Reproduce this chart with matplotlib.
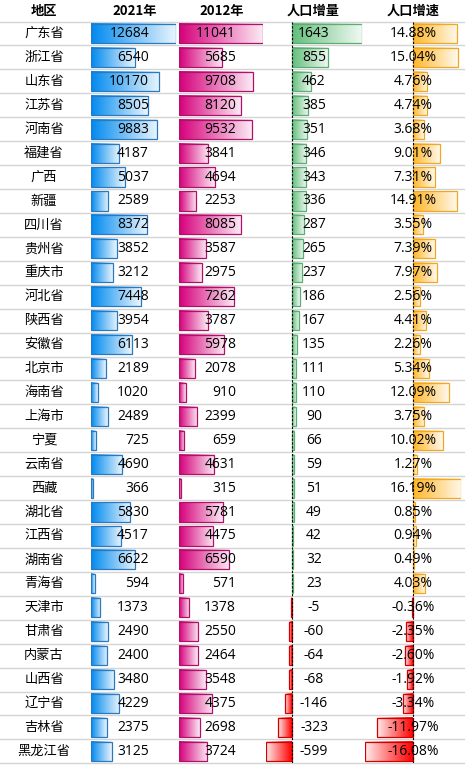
import matplotlib
matplotlib.use('Agg')
import matplotlib.pyplot as plt
import numpy as np
from matplotlib.colors import LinearSegmentedColormap

plt.rcParams['font.family'] = ['Noto Sans CJK SC', 'DejaVu Sans']

# 数据
regions = ['广东省', '浙江省', '山东省', '江苏省', '河南省', '福建省', '广西', '新疆',
           '四川省', '贵州省', '重庆市', '河北省', '陕西省', '安徽省', '北京市', '海南省',
           '上海市', '宁夏', '云南省', '西藏', '湖北省', '江西省', '湖南省', '青海省',
           '天津市', '甘肃省', '内蒙古', '山西省', '辽宁省', '吉林省', '黑龙江省']
pop_2021 = [12684, 6540, 10170, 8505, 9883, 4187, 5037, 2589, 8372, 3852, 3212, 7448,
            3954, 6113, 2189, 1020, 2489, 725, 4690, 366, 5830, 4517, 6622, 594,
            1373, 2490, 2400, 3480, 4229, 2375, 3125]
pop_2012 = [11041, 5685, 9708, 8120, 9532, 3841, 4694, 2253, 8085, 3587, 2975, 7262,
            3787, 5978, 2078, 910, 2399, 659, 4631, 315, 5781, 4475, 6590, 571,
            1378, 2550, 2464, 3548, 4375, 2698, 3724]
increase = [1643, 855, 462, 385, 351, 346, 343, 336, 287, 265, 237, 186, 167, 135, 111,
            110, 90, 66, 59, 51, 49, 42, 32, 23, -5, -60, -64, -68, -146, -323, -599]
growth = [14.88, 15.04, 4.76, 4.74, 3.68, 9.01, 7.31, 14.91, 3.55, 7.39, 7.97, 2.56,
          4.41, 2.26, 5.34, 12.09, 3.75, 10.02, 1.27, 16.19, 0.85, 0.94, 0.49, 4.03,
          -0.36, -2.35, -2.60, -1.92, -3.34, -11.97, -16.08]
headers = ['地区', '2021年', '2012年', '人口增量', '人口增速']

W, H = 465, 766
head_h = 21.5
row_h = 23.93
n = len(regions)
num_font = ['Open Sans', 'DejaVu Sans']

fig = plt.figure(figsize=(W / 100, H / 100), dpi=100)
bg = fig.add_axes([0, 0, 1, 1])
bg.set_xlim(0, W)
bg.set_ylim(H, 0)
bg.axis('off')

# 网格线
for i in range(n + 1):
    yy = head_h + i * row_h
    bg.plot([0, W], [yy, yy], color='#D4D4D4', lw=1, zorder=0)

# 表头
for txt, xc in zip(headers, [44, 135, 222, 313, 413]):
    bg.text(xc, head_h / 2, txt, ha='center', va='center', fontsize=9.5,
            fontweight='bold', color='black')


def col_axes(x0, x1):
    top = 1 - head_h / H
    bot = 1 - (head_h + n * row_h) / H
    ax = fig.add_axes([x0 / W, bot, (x1 - x0) / W, top - bot])
    ax.axis('off')
    ax.patch.set_alpha(0)
    return ax


def grad_bars(ax, idx, vals, color, edge, lo, hi):
    bars = ax.barh(idx, vals, height=0.8, facecolor='none',
                   edgecolor=edge, linewidth=0.9, zorder=3)
    cmap = LinearSegmentedColormap.from_list('g', [color, '#FFFFFF'])
    for b in bars:
        x, y, w, h = b.get_x(), b.get_y(), b.get_width(), b.get_height()
        ax.imshow(np.linspace(0, 0.92, 256).reshape(1, -1), cmap=cmap, vmin=0, vmax=1,
                  extent=[x, x + w, y + h, y], aspect='auto', zorder=2)
    ax.set_xlim(lo, hi)
    ax.set_ylim(n - 0.5, -0.5)
    return bars


rows = np.arange(n)
ax1 = col_axes(91, 176)
grad_bars(ax1, rows, pop_2021, '#008AEF', '#2A78C0', 0, max(pop_2021))
ax2 = col_axes(179, 263)
grad_bars(ax2, rows, pop_2012, '#D6007B', '#B0106A', 0, max(pop_2012))

ax3 = col_axes(266, 362)
inc = np.array(increase)
p, q = inc > 0, inc < 0
grad_bars(ax3, rows[p], inc[p], '#63BE7B', '#5AAE72', inc.min(), inc.max())
grad_bars(ax3, rows[q], inc[q], '#FF0000', '#D00000', inc.min(), inc.max())
ax3.axvline(0, color='black', lw=0.8, ls=(0, (2, 1.5)), zorder=4)

ax4 = col_axes(365, 461)
gr = np.array(growth)
p, q = gr > 0, gr < 0
grad_bars(ax4, rows[p], gr[p], '#FFB628', '#F0A820', gr.min(), gr.max())
grad_bars(ax4, rows[q], gr[q], '#FF0000', '#D00000', gr.min(), gr.max())
ax4.axvline(0, color='black', lw=0.8, ls=(0, (2, 1.5)), zorder=4)

# 文字
for i in range(n):
    yc = head_h + (i + 0.5) * row_h
    bg.text(44, yc, regions[i], ha='center', va='center', fontsize=9.5)

fg = fig.add_axes([0, 0, 1, 1])
fg.set_xlim(0, W)
fg.set_ylim(H, 0)
fg.axis('off')
fg.patch.set_alpha(0)
for i in range(n):
    yc = head_h + (i + 0.5) * row_h
    fg.text(149, yc, f'{pop_2021[i]}', ha='right', va='center', fontsize=10, family=num_font)
    fg.text(236, yc, f'{pop_2012[i]}', ha='right', va='center', fontsize=10, family=num_font)
    fg.text(314, yc, f'{increase[i]}', ha='center', va='center', fontsize=10, family=num_font)
    fg.text(413, yc, f'{growth[i]:.2f}%', ha='center', va='center', fontsize=10, family=num_font)

fig.savefig('out.png', dpi=100)
